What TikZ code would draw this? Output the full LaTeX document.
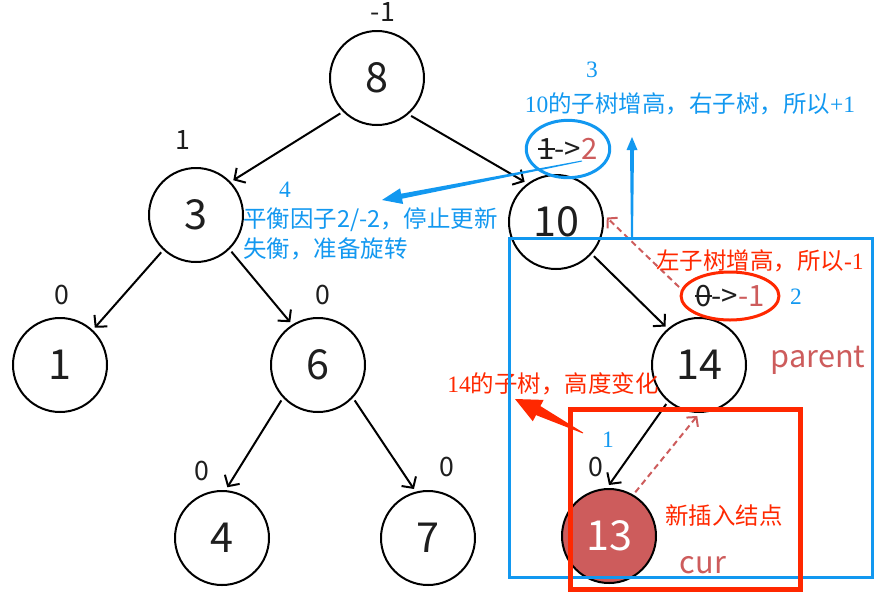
\documentclass[tikz,border=0pt]{standalone}
\usepackage{fontspec}
\setmainfont{Noto Sans CJK SC}
\newfontfamily\serifnum{Liberation Serif}
\usetikzlibrary{arrows.meta,shapes.geometric}
\definecolor{annblue}{RGB}{18,152,240}
\definecolor{annred}{RGB}{255,40,0}
\definecolor{ired}{RGB}{205,92,92}
\definecolor{ink}{RGB}{30,30,30}
\newcommand\strk[1]{\makebox[0pt][l]{\rule[0.33em]{0.55em}{0.07em}}#1}
\begin{document}
\begin{tikzpicture}[x=0.75pt,y=-0.75pt,
  tn/.style={circle,draw=black,line width=1.5pt,fill=white,minimum size=70.5pt,inner sep=0pt,outer sep=3pt,font=\fontsize{31}{31}\selectfont,text=ink},
  bal/.style={font=\fontsize{20}{20}\selectfont,text=ink,inner sep=0pt},
  treeedge/.style={line width=1.5pt,-{Straight Barb[length=6pt,width=13pt]}},
  dasharrow/.style={draw=ired,line width=1.5pt,dash pattern=on 4.5pt off 3pt,-{Straight Barb[length=5pt,width=11pt]}},
  anntext/.style={font=\fontsize{17.6}{17.6}\selectfont,inner sep=0pt},
  bluetext/.style={anntext,text=annblue},
  redtext/.style={anntext,text=annred},
  labtext/.style={font=\fontsize{23}{23}\selectfont,text=ired,inner sep=0pt,anchor=base}
]
\useasboundingbox (0,0) rectangle (881,593);

% tree nodes
\node[tn] (n8) at (377,78) {8};
\node[tn] (n3) at (196,215) {3};
\node[tn] (n10) at (556,222) {10};
\node[tn] (n1) at (60,365) {1};
\node[tn] (n6) at (318,365) {6};
\node[tn] (n14) at (699,365) {14};
\node[tn] (n4) at (222,538) {4};
\node[tn] (n7) at (428,538) {7};
\node[tn,fill=ired,text=white] (n13) at (609,536) {13};

% tree edges
\draw[treeedge] (n8.224) -- (n3.43);
\draw[treeedge] (n8.-48) -- (n10.128);
\draw[treeedge] (n3.227) -- (n1.47);
\draw[treeedge] (n3.314) -- (n6.123);
\draw[treeedge] (n6.224) -- (n4.84);
\draw[treeedge] (n6.316) -- (n7.106);
\draw[treeedge] (n10.-42) -- (n14.131);
\draw[treeedge] (n14.230) -- (n13.north);

% balance factors
\node[bal] (b8) at (383,12) {-1};
\node[bal] (b3) at (183,140) {1};
\node[bal] (b1) at (62,295) {0};
\node[bal] (b6) at (323,295) {0};
\node[bal] (b4) at (202,471) {0};
\node[bal] (b7) at (447,467) {0};
\node[bal] (b13) at (596,467) {0};

% dashed back-tracking arrows
\draw[dasharrow] (n14.80) -- (n10.5);
\draw[dasharrow] (n13.59) -- (n14.268);

% changed balance factors
\node[ellipse,draw=annblue,line width=2.25pt,minimum width=58pt,minimum height=43pt,inner sep=0pt,
      font=\fontsize{22}{22}\selectfont,text=ink] (e10) at (568,149) {\strk{1}->\textcolor{ired}{2}};
\node[ellipse,draw=annred,fill=white,line width=2.25pt,minimum width=64pt,minimum height=36pt,inner sep=0pt,
      font=\fontsize{22}{22}\selectfont,text=ink] (e14) at (730,296) {\strk{0}->\textcolor{ired}{-1}};

% annotations
\node[bluetext] (s3) at (592,70) {\serifnum 3};
\node[bluetext] (t3) at (690,104) {{\serifnum 10}的子树增高，右子树，所以{\serifnum +1}};
\node[bluetext] (s4) at (285,190) {\serifnum 4};
\node[bluetext,anchor=west] (t4a) at (243,220) {平衡因子2/-2，停止更新};
\node[bluetext,anchor=west] (t4b) at (243,249) {失衡，准备旋转};
\node[redtext] (t2) at (760,261) {左子树增高，所以{\serifnum -1}};
\node[bluetext] (s2) at (796,297) {\serifnum 2};
\node[redtext] (t1) at (553,384) {{\serifnum 14}的子树，高度变化};
\node[bluetext] (s1) at (608,440) {\serifnum 1};
\node[redtext] (tnew) at (724,516) {新插入结点};
\node[labtext] (lp) at (818,367) {parent};
\node[labtext] (lc) at (703,573) {cur};

% tapered annotation arrows
\fill[annblue] (382,200) -- (403.1,204.0) -- (402.1,198.7) -- (582.1,161.5) -- (581.9,160.5) -- (401.1,193.7) -- (400.1,188.3) -- cycle;
\fill[annblue] (632,137) -- (637.5,150) -- (634,150) -- (633,237) -- (631,237) -- (630,150) -- (626.5,150) -- cycle;
\fill[annred] (515,399) -- (543.6,399.9) -- (540.4,406.1) -- (583.2,432.6) -- (582.8,433.4) -- (536.0,415.1) -- (532.8,421.3) -- cycle;

% frames
\draw[annblue,line width=2.25pt] (509,238) rectangle (872,577);
\draw[annred,line width=3.75pt] (570,409) rectangle (800,589);
\end{tikzpicture}
\end{document}
